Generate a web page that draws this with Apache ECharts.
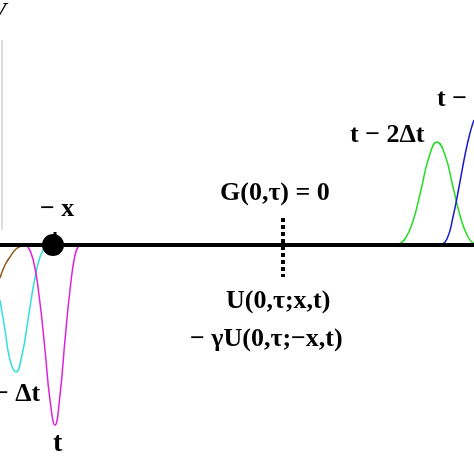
<!DOCTYPE html>
<html><head><meta charset="utf-8">
<script src="https://cdn.jsdelivr.net/npm/echarts@6/dist/echarts.min.js"></script>
<style>html,body{margin:0;padding:0;background:#fff}#main{width:474px;height:474px}</style>
</head><body><div id="main"></div>
<script>
// positions along the line (x) and heights above the axis (y)
var greenPulse = [[397,0],[405,6],[413,24],[421,55],[429,88],[437,103],[445,90],[453,58],[461,26],[468,8],[474,1]];
var bluePulse = [[441,0],[447,6],[453,28],[459,58],[465,90],[470,112],[474,125]];
var magentaPulse = [[27,0],[33,-14],[39,-50],[45,-105],[50,-155],[55,-180],[60,-150],[65,-95],[70,-45],[75,-10],[79,0]];
var cyanPulse = [[0,-55],[5,-85],[10,-115],[16,-127],[22,-110],[28,-75],[34,-38],[40,-12],[46,0]];
var brownPulse = [[0,-33],[5,-20],[10,-12],[16,-4],[22,-1],[27,0]];
var baseLine = [[0,0],[474,0]];
var mirrorPoint = [[53,0]];
var boundaryMark = [[283,27],[283,-32]];

var myChart = echarts.init(document.getElementById('main'));
var serif = 'Liberation Serif';
function label(text, x, y, size, weight) {
  return {type: 'text', left: x, top: y, z: 10, style: {text: text, font: (weight || 'bold') + ' ' + (size || 26) + 'px ' + serif, fill: '#000'}};
}
option = {
  animation: false,
  grid: {left: 0, right: 0, top: 0, bottom: 0},
  xAxis: {type: 'value', min: 0, max: 474, show: false},
  yAxis: {type: 'value', min: -229, max: 245, show: false},
  graphic: [
    {type: 'line', shape: {x1: 2, y1: 40, x2: 2, y2: 230}, style: {stroke: '#ddd', lineWidth: 2}},
    {type: 'line', z: 10, shape: {x1: 55, y1: 232, x2: 55, y2: 245}, style: {stroke: '#000', lineWidth: 3}},
    {type: 'text', left: -10, top: 0, style: {text: 'V', font: 'italic 26px ' + serif, fill: '#000'}},
    label('− x', 40, 196),
    label('G(0,τ) = 0', 220, 180),
    label('U(0,τ;x,t)', 226, 288),
    label('− γU(0,τ;−x,t)', 190, 326),
    label('− Δt', -6, 381),
    label('t', 53, 430, 28),
    label('t − 2Δt', 350, 122),
    label('t −', 437, 86)
  ],
  series: [
    {type: 'line', data: greenPulse, smooth: true, symbol: 'none', lineStyle: {color: '#22dd22', width: 1.5}},
    {type: 'line', data: bluePulse, smooth: true, symbol: 'none', lineStyle: {color: '#1a1acc', width: 1.5}},
    {type: 'line', data: brownPulse, smooth: true, symbol: 'none', lineStyle: {color: '#8b5a1a', width: 1.5}},
    {type: 'line', data: cyanPulse, smooth: true, symbol: 'none', lineStyle: {color: '#33dddd', width: 1.5}},
    {type: 'line', data: magentaPulse, smooth: true, symbol: 'none', lineStyle: {color: '#dd22dd', width: 1.5}},
    {type: 'line', data: baseLine, symbol: 'none', lineStyle: {color: '#000', width: 4}},
    {type: 'line', data: boundaryMark, symbol: 'none', lineStyle: {color: '#000', width: 4, type: [4, 3]}},
    {type: 'scatter', data: mirrorPoint, symbolSize: 22, z: 5, itemStyle: {color: '#000', opacity: 1}}
  ]
};
myChart.setOption(option);
</script></body></html>
